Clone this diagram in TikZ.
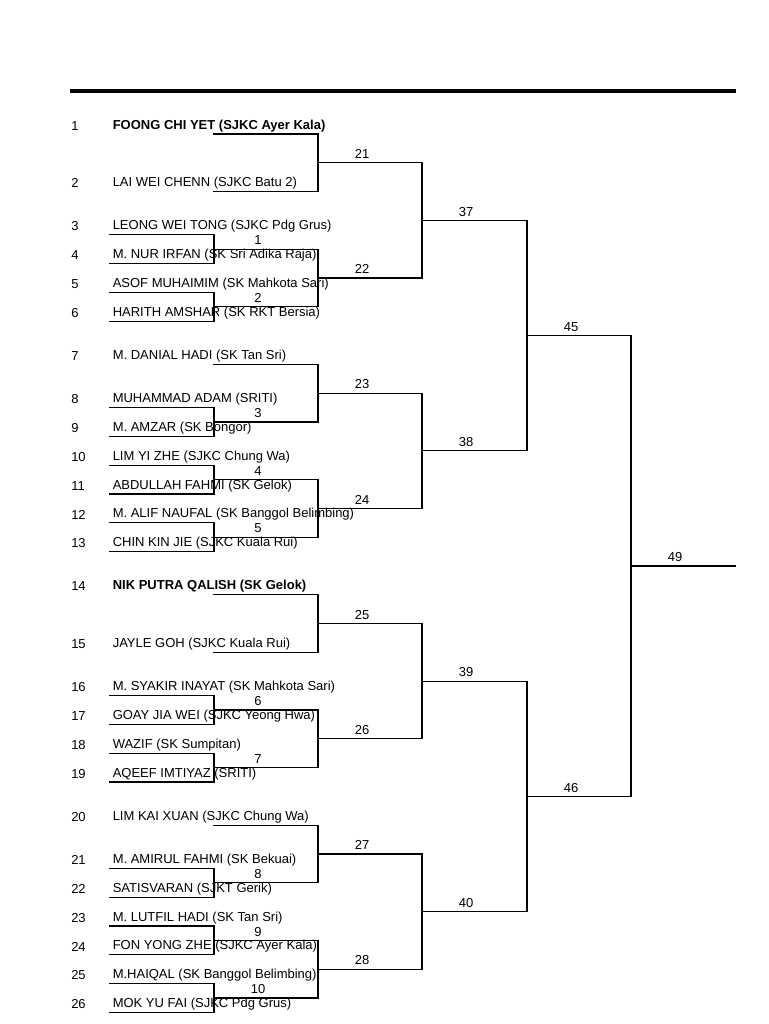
\documentclass[tikz,border=0pt]{standalone}
\usepackage{fontspec}
\setmainfont{Liberation Sans}
\usetikzlibrary{calc}
\begin{document}
\begin{tikzpicture}[x=0.75pt,y=-0.75pt,
  txt/.style={inner sep=0pt, font=\fontsize{9.75}{11}\selectfont},
  seed/.style={txt, anchor=west},
  pname/.style={txt, anchor=west},
  mlabel/.style={txt, anchor=center},
  bline/.style={line width=0.8pt, line cap=rect},
  rule/.style={line width=2.5pt}
]
\useasboundingbox (0,0) rectangle (768,1024);
\coordinate (tl) at (70,91);
\coordinate (tr) at (736,91);
\draw[rule] (tl) -- (tr);

\newcommand\Player[6]{%
  \node[seed] (s#1) at (71,{134+14.4*#2-8.3}) {#1};
  \node[pname] (n#1) at (112.5,{134+14.4*#2-8.3}) {#6#3};
  \coordinate (a#1) at (#4,{134+14.4*#2});
  \coordinate (b#1) at (#5,{134+14.4*#2});
  \draw[bline] (a#1) -- (b#1);
}
\newcommand\Match[4]{%
  \draw[bline] (#2) -- (#3);
  \coordinate (c#1) at ($(#2)!0.5!(#3)$);
  \coordinate (d#1) at ($(c#1)+(#4,0)$);
  \draw[bline] (c#1) -- (d#1);
  \node[mlabel] (l#1) at ($(c#1)+(44,-8.8)$) {#1};
}

% Quarter 1
\Player{1}{0}{FOONG CHI YET (SJKC Ayer Kala)}{214}{318}{\bfseries}
\Player{2}{4}{LAI WEI CHENN (SJKC Batu 2)}{214}{318}{}
\Player{3}{7}{LEONG WEI TONG (SJKC Pdg Grus)}{110}{214}{}
\Player{4}{9}{M. NUR IRFAN (SK Sri Adika Raja)}{110}{214}{}
\Player{5}{11}{ASOF MUHAIMIM (SK Mahkota Sari)}{110}{214}{}
\Player{6}{13}{HARITH AMSHAR (SK RKT Bersia)}{110}{214}{}
% Quarter 2
\Player{7}{16}{M. DANIAL HADI (SK Tan Sri)}{214}{318}{}
\Player{8}{19}{MUHAMMAD ADAM (SRITI)}{110}{214}{}
\Player{9}{21}{M. AMZAR (SK Bongor)}{110}{214}{}
\Player{10}{23}{LIM YI ZHE (SJKC Chung Wa)}{110}{214}{}
\Player{11}{25}{ABDULLAH FAHMI (SK Gelok)}{110}{214}{}
\Player{12}{27}{M. ALIF NAUFAL (SK Banggol Belimbing)}{110}{214}{}
\Player{13}{29}{CHIN KIN JIE (SJKC Kuala Rui)}{110}{214}{}
% Quarter 3
\Player{14}{32}{NIK PUTRA QALISH (SK Gelok)}{214}{318}{\bfseries}
\Player{15}{36}{JAYLE GOH (SJKC Kuala Rui)}{214}{318}{}
\Player{16}{39}{M. SYAKIR INAYAT (SK Mahkota Sari)}{110}{214}{}
\Player{17}{41}{GOAY JIA WEI (SJKC Yeong Hwa)}{110}{214}{}
\Player{18}{43}{WAZIF (SK Sumpitan)}{110}{214}{}
\Player{19}{45}{AQEEF IMTIYAZ (SRITI)}{110}{214}{}
% Quarter 4
\Player{20}{48}{LIM KAI XUAN (SJKC Chung Wa)}{214}{318}{}
\Player{21}{51}{M. AMIRUL FAHMI (SK Bekuai)}{110}{214}{}
\Player{22}{53}{SATISVARAN (SJKT Gerik)}{110}{214}{}
\Player{23}{55}{M. LUTFIL HADI (SK Tan Sri)}{110}{214}{}
\Player{24}{57}{FON YONG ZHE (SJKC Ayer Kala)}{110}{214}{}
\Player{25}{59}{M.HAIQAL (SK Banggol Belimbing)}{110}{214}{}
\Player{26}{61}{MOK YU FAI (SJKC Pdg Grus)}{110}{214}{}

% Round 1
\Match{1}{b3}{b4}{104}
\Match{2}{b5}{b6}{104}
\Match{3}{b8}{b9}{104}
\Match{4}{b10}{b11}{104}
\Match{5}{b12}{b13}{104}
\Match{6}{b16}{b17}{104}
\Match{7}{b18}{b19}{104}
\Match{8}{b21}{b22}{104}
\Match{9}{b23}{b24}{104}
\Match{10}{b25}{b26}{104}
% Round 2
\Match{21}{b1}{b2}{104}
\Match{22}{d1}{d2}{104}
\Match{23}{b7}{d3}{104}
\Match{24}{d4}{d5}{104}
\Match{25}{b14}{b15}{104}
\Match{26}{d6}{d7}{104}
\Match{27}{b20}{d8}{104}
\Match{28}{d9}{d10}{104}
% Round 3
\Match{37}{d21}{d22}{105}
\Match{38}{d23}{d24}{105}
\Match{39}{d25}{d26}{105}
\Match{40}{d27}{d28}{105}
% Round 4
\Match{45}{d37}{d38}{104}
\Match{46}{d39}{d40}{104}
% Final
\Match{49}{d45}{d46}{104}
\end{tikzpicture}
\end{document}
